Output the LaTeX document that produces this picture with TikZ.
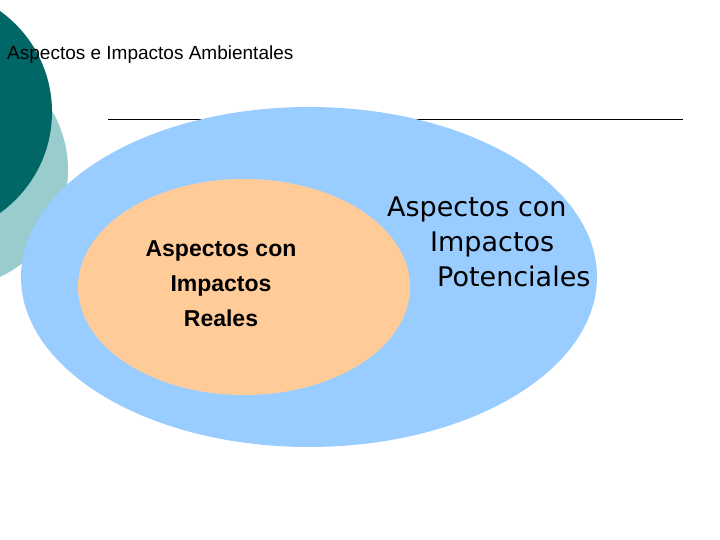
\documentclass[tikz,border=0pt]{standalone}
\usepackage{fontspec}
\usetikzlibrary{shapes.geometric}
\setmainfont{Liberation Sans}
\newfontfamily\dv{DejaVu Sans}
\begin{document}
\begin{tikzpicture}[x=1pt,y=1pt]
\definecolor{darkteal}{HTML}{006666}
\definecolor{lightteal}{HTML}{99CCCC}
\definecolor{skyblue}{HTML}{99CCFF}
\definecolor{peach}{HTML}{FFCC99}
\tikzset{lbl/.style={inner sep=0pt,align=center}}
\useasboundingbox (0,0) rectangle (720,540);
\clip (0,0) rectangle (720,540);
\fill[lightteal] (-50,370) circle (118);
\fill[darkteal] (-72,428) circle (124);
\draw[black,line width=1pt] (108,420) coordinate (l1) -- (683,420) coordinate (l2);
\node[ellipse,fill=skyblue,minimum width=576,minimum height=340,inner sep=0pt] (outer) at (309,263) {};
\node[fill=peach,ellipse,minimum width=332,minimum height=216,inner sep=0pt] (inner) at (244,253) {};
\node[lbl,font=\fontsize{23}{35}\selectfont\bfseries] (real) at (221,256) {Aspectos con\\Impactos\\Reales};
\node[lbl,anchor=north west,font=\dv\fontsize{27}{35}\selectfont,align=left] (pot) at (387,343) {Aspectos con\\\hspace*{43pt}Impactos\\\hspace*{50pt}Potenciales};
\node[lbl,anchor=west,font=\fontsize{19}{22}\selectfont] (title) at (7,485) {Aspectos e Impactos Ambientales};
\end{tikzpicture}
\end{document}
